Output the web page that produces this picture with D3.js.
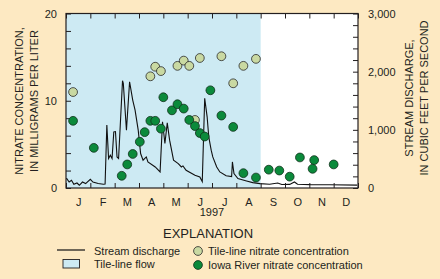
<!DOCTYPE html>
<html><head><meta charset="utf-8">
<script src="https://cdn.jsdelivr.net/npm/d3@7"></script>
<style>
html,body{margin:0;padding:0;background:#fde9c2;}
svg{display:block;font-family:"Liberation Sans",Arial,Helvetica,sans-serif;}
</style></head><body>
<svg id="c" width="440" height="279"></svg>
<script>
const monthLabels = ["J","F","M","A","M","J","J","A","S","O","N","D"];
const yearLabel = "1997";
const tileLineFlowEnd = "1997-09-01";

const dischargeDates = ["1997-01-01","1997-01-02","1997-01-05","1997-01-08","1997-01-11","1997-01-15","1997-01-18","1997-01-22","1997-01-26",
 "1997-02-01","1997-02-04","1997-02-10","1997-02-16","1997-02-18","1997-02-20","1997-02-22","1997-02-24","1997-02-26","1997-02-28",
 "1997-03-02","1997-03-04","1997-03-06","1997-03-11","1997-03-12","1997-03-16","1997-03-20","1997-03-24","1997-03-27","1997-03-31",
 "1997-04-03","1997-04-06","1997-04-10","1997-04-12","1997-04-21","1997-04-27","1997-04-30",
 "1997-05-03","1997-05-06","1997-05-09","1997-05-14","1997-05-20","1997-05-24","1997-05-26","1997-05-30",
 "1997-06-10","1997-06-16","1997-06-19","1997-06-22","1997-06-25","1997-06-27","1997-06-30",
 "1997-07-02","1997-07-07","1997-07-11","1997-07-19","1997-07-26","1997-07-27","1997-07-29",
 "1997-08-03","1997-08-14","1997-08-22","1997-08-31",
 "1997-09-12","1997-09-22","1997-09-27","1997-10-07","1997-10-13","1997-10-17","1997-11-02","1997-11-26","1997-12-31"];
const dischargeValues = [160,162,103,133,64,86,47,103,76,
 150,103,76,64,70,1081,507,564,507,965,
 970,534,507,1845,1800,995,1827,1512,1340,995,
 593,478,534,448,362,276,1140,
 765,1120,822,478,420,362,380,305,
 219,190,110,1541,1224,879,650,
 534,362,276,210,195,448,248,
 162,121,93,76,
 65,86,60,62,103,65,58,55,50];

const tileDates = ["1997-01-10","1997-04-15","1997-04-21","1997-04-28","1997-05-19","1997-05-27","1997-06-03","1997-06-10","1997-06-16","1997-07-13","1997-07-28","1997-08-10","1997-08-26"];
const tileNitrate = [11.0,12.8,13.9,13.4,14.0,14.6,14.0,7.8,14.9,15.1,12.0,14.0,14.8];

const riverDates = ["1997-01-10","1997-02-05","1997-03-10","1997-03-17","1997-03-24","1997-04-02","1997-04-08","1997-04-15","1997-04-21","1997-04-28",
 "1997-05-01","1997-05-12","1997-05-19","1997-05-27","1997-06-03","1997-06-10","1997-06-16","1997-06-22","1997-06-29",
 "1997-07-13","1997-07-28","1997-08-10","1997-08-26","1997-09-11","1997-09-24","1997-10-07","1997-10-20","1997-11-05","1997-11-07","1997-12-01"];
const riverNitrate = [7.7,4.6,1.4,2.7,3.9,5.3,6.4,7.7,7.7,6.8,
 10.4,8.9,9.6,9.1,7.8,7.1,6.3,5.9,11.2,
 8.3,7.0,1.7,1.2,2.1,2.0,1.3,3.5,2.2,3.2,2.7];

const leftTicks = d3.range(0, 21, 2);
const leftLabels = [0, 10, 20];
const rightTicks = d3.range(0, 3001, 200);
const rightLabels = [0, 1000, 2000, 3000];

// equal-width months: month index + fraction of month
function mpos(s){
  const [y,m,d] = s.split("-").map(Number);
  const dim = new Date(y, m, 0).getDate();
  return (m-1) + (d-1)/dim;
}

const svg = d3.select("#c");
const L = 66, R = 358, T = 13.5, B = 188;
const x = d3.scaleLinear().domain([0,12]).range([L,R]);
const yN = d3.scaleLinear().domain([0,20]).range([B,T]);
const yQ = d3.scaleLinear().domain([0,3000]).range([B,T]);
const ink = "#231f20";

svg.append("rect").attr("x",L).attr("y",T).attr("width",R-L).attr("height",B-T).attr("fill","#fff");
svg.append("rect").attr("x",L).attr("y",T).attr("width",x(mpos(tileLineFlowEnd))-L).attr("height",B-T).attr("fill","#cdeaf3");

// discharge line
const qData = dischargeDates.map((d,i)=>({x:mpos(d), v:dischargeValues[i]}));
svg.append("path").datum(qData)
  .attr("d", d3.line().x(d=>x(d.x)).y(d=>yQ(d.v)))
  .attr("fill","none").attr("stroke","#111").attr("stroke-width",1.1);

// axes
function styleAxis(g){
  g.select(".domain").remove();
  g.selectAll("line").attr("stroke",ink);
  g.selectAll("text").attr("fill",ink).style("font-size","11px").style("font-family","'Liberation Sans',Arial,sans-serif");
}
svg.append("g").attr("transform",`translate(${L},0)`)
  .call(d3.axisLeft(yN).tickValues(leftTicks).tickSizeInner(-5).tickSizeOuter(0).tickPadding(9)
    .tickFormat(d=>leftLabels.includes(d)?d:""))
  .call(styleAxis);
svg.append("g").attr("transform",`translate(${R},0)`)
  .call(d3.axisRight(yQ).tickValues(rightTicks).tickSizeInner(-5).tickSizeOuter(0).tickPadding(10)
    .tickFormat(d=>rightLabels.includes(d)?d3.format(",")(d):""))
  .call(styleAxis);
svg.append("g").attr("transform",`translate(0,${B})`)
  .call(d3.axisBottom(x).tickValues(d3.range(0,13)).tickSizeInner(-5).tickSizeOuter(0).tickFormat(""))
  .call(styleAxis);
svg.append("g").attr("transform",`translate(0,${T})`)
  .call(d3.axisTop(x).tickValues(d3.range(0,13)).tickSizeInner(-5).tickSizeOuter(0).tickFormat(""))
  .call(styleAxis);
svg.append("g").attr("transform",`translate(0,${B})`)
  .call(d3.axisBottom(x).tickValues(d3.range(0.5,12,1)).tickSize(0).tickPadding(10)
    .tickFormat((d,i)=>monthLabels[i]))
  .call(styleAxis);

svg.append("rect").attr("x",L).attr("y",T).attr("width",R-L).attr("height",B-T)
  .attr("fill","none").attr("stroke",ink).attr("stroke-width",1.2);

// points
const r = 4.4;
svg.append("g").selectAll("circle").data(tileDates).join("circle")
  .attr("cx",(d)=>x(mpos(d))).attr("cy",(d,i)=>yN(tileNitrate[i])).attr("r",r)
  .attr("fill","#c9d9a2").attr("stroke","#2a2a2a").attr("stroke-width",0.8);
svg.append("g").selectAll("circle").data(riverDates).join("circle")
  .attr("cx",(d)=>x(mpos(d))).attr("cy",(d,i)=>yN(riverNitrate[i])).attr("r",r)
  .attr("fill","#0b8a3b").attr("stroke","#10301a").attr("stroke-width",0.8);

// texts
const txt = (xx,yy,s,opt={}) => svg.append("text").attr("x",xx).attr("y",yy).text(s)
  .attr("fill",ink).style("font-size",(opt.size||11)+"px").attr("text-anchor",opt.anchor||"start");
txt((L+R)/2, 216, yearLabel, {anchor:"middle"});

function rot(cx, cy, lines){
  const g = svg.append("g").attr("transform",`translate(${cx},${cy}) rotate(-90)`);
  lines.forEach((s,i)=>g.append("text").attr("x",0).attr("y",i*15).attr("text-anchor","middle")
    .attr("fill",ink).style("font-size","11px").text(s));
}
rot(23, 101, ["NITRATE CONCENTRATION,","IN MILLIGRAMS PER LITER"]);
rot(413, 98, ["STREAM DISCHARGE,","IN CUBIC FEET PER SECOND"]);

// legend
txt(208, 238, "EXPLANATION", {anchor:"middle", size:13});
svg.append("line").attr("x1",57).attr("x2",85).attr("y1",250).attr("y2",250).attr("stroke","#111").attr("stroke-width",1.2);
txt(94, 254.5, "Stream discharge");
svg.append("rect").attr("x",63).attr("y",259.5).attr("width",16.5).attr("height",8.5).attr("fill","#cdeaf3").attr("stroke",ink).attr("stroke-width",0.9);
txt(94, 268, "Tile-line flow");
svg.append("circle").attr("cx",198).attr("cy",251).attr("r",4.4).attr("fill","#c9d9a2").attr("stroke","#2a2a2a").attr("stroke-width",0.8);
txt(208, 255, "Tile-line nitrate concentration");
svg.append("circle").attr("cx",198).attr("cy",265).attr("r",4.4).attr("fill","#0b8a3b").attr("stroke","#10301a").attr("stroke-width",0.8);
txt(208, 268.5, "Iowa River nitrate concentration");
</script>
</body></html>
